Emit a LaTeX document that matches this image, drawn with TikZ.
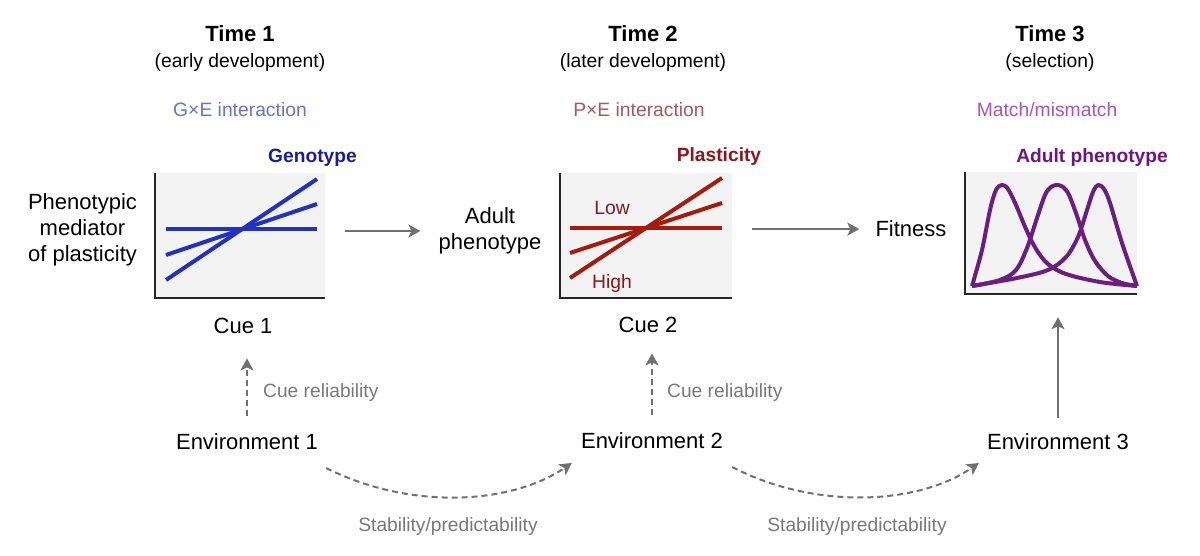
\documentclass[tikz,border=0pt]{standalone}
\usepackage{fontspec}
\setmainfont{Liberation Sans}
\usetikzlibrary{arrows.meta}
\definecolor{blueline}{RGB}{35,50,190}
\definecolor{bluetext}{RGB}{25,30,150}
\definecolor{gxe}{RGB}{105,115,200}
\definecolor{redline}{RGB}{165,28,12}
\definecolor{redtext}{RGB}{140,22,25}
\definecolor{pxe}{RGB}{170,85,100}
\definecolor{purpline}{RGB}{108,30,128}
\definecolor{purptext}{RGB}{108,20,130}
\definecolor{match}{RGB}{165,85,185}
\definecolor{arrgray}{RGB}{112,112,112}
\definecolor{txtgray}{RGB}{120,120,120}
\definecolor{plotbg}{RGB}{243,243,243}
\tikzset{
  big/.style={inner sep=0pt, font=\fontsize{22}{26}\selectfont, align=center},
  ttl/.style={inner sep=0pt, font=\fontsize{22}{26}\selectfont\bfseries, anchor=base},
  sub/.style={inner sep=0pt, font=\fontsize{19.3}{23}\selectfont, anchor=base},
  ptitle/.style={inner sep=0pt, font=\fontsize{19.2}{23}\selectfont\bfseries, anchor=base},
  graylbl/.style={inner sep=0pt, font=\fontsize{19.2}{23}\selectfont, text=txtgray},
  pbox/.style={inner sep=0pt, draw=none, fill=plotbg},
  axis/.style={draw=black!85, line width=1.5pt},
  bl/.style={draw=blueline, line width=4pt},
  rl/.style={draw=redline, line width=4pt},
  pl/.style={draw=purpline, line width=4pt, line join=round},
  arr/.style={draw=arrgray, line width=2pt, -{Stealth[length=12pt,width=13pt,inset=3pt]}},
  darr/.style={arr, dash pattern=on 6pt off 4pt},
}
\begin{document}
\begin{tikzpicture}[x=1pt,y=-1pt]
\useasboundingbox (0,0) rectangle (1200,556);
% headers
\node[ttl] (t1) at (240,42) {Time 1};
\node[sub] (s1) at (240,68) {(early development)};
\node[sub, text=gxe] (g1) at (240,117) {G×E interaction};
\node[ttl] (t2) at (643,42) {Time 2};
\node[sub] (s2) at (643,68) {(later development)};
\node[sub, text=pxe] (g2) at (639,117) {P×E interaction};
\node[ttl] (t3) at (1050,42) {Time 3};
\node[sub] (s3) at (1050,68) {(selection)};
\node[sub, text=match] (g3) at (1047,117) {Match/mismatch};
% plot titles
\node[ptitle, text=bluetext] (gen) at (312.5,162.5) {Genotype};
\node[ptitle, text=redtext] (plas) at (719,162) {Plasticity};
\node[ptitle, text=purptext] (adph) at (1092,163) {Adult phenotype};
% plot boxes
\node[pbox, minimum width=170pt, minimum height=125pt] (p1) at (240,235.5) {};
\node[pbox, minimum width=172pt, minimum height=125pt] (p2) at (646,235.5) {};
\node[pbox, minimum width=172pt, minimum height=122pt] (p3) at (1051,233) {};
\draw[axis] (p1.north west) -- (p1.south west) -- (p1.south east);
\draw[axis] (p2.north west) -- (p2.south west) -- (p2.south east);
\draw[axis] (p3.north west) -- (p3.south west) -- (p3.south east);
% plot 1
\draw[bl] (166,229) -- (317,229);
\draw[bl] (166,280) -- (317,179);
\draw[bl] (166,255) -- (317,204);
% plot 2
\draw[rl] (570,228) -- (722,228);
\draw[rl] (570,278) -- (722,178);
\draw[rl] (570,253) -- (722,203);
\node[sub, text=redtext] (low) at (612,215) {Low};
\node[sub, text=redtext] (high) at (612,288) {High};
% plot 3
\draw[pl] plot[smooth, tension=0.55] coordinates {(972,286) (982,250) (990,210) (996,190) (1002,185) (1008,189) (1016,205) (1026,229) (1036,249) (1048,264) (1066,274) (1100,282) (1137,286)};
\draw[pl] plot[smooth, tension=0.55] coordinates {(972,286) (1000,280) (1016,270) (1027,248) (1037,218) (1045,195) (1051,187) (1057,185) (1063,187) (1069,195) (1077,216) (1085,240) (1095,261) (1108,276) (1122,283) (1137,286)};
\draw[pl] plot[smooth, tension=0.55] coordinates {(972,286) (1017,278) (1048,270) (1066,257) (1078,237) (1087,210) (1093,192) (1098,185) (1104,189) (1110,203) (1122,243) (1137,286)};
% main labels
\node[big] (pm) at (82.5,230) {Phenotypic\\mediator\\of plasticity};
\node[big] (ap) at (490,231) {Adult\\phenotype};
\node[big, anchor=base] (fit) at (911,237) {Fitness};
\node[big, anchor=base] (cue1) at (243,334) {Cue 1};
\node[big, anchor=base] (cue2) at (648,332) {Cue 2};
\node[big, anchor=base] (env1) at (247,449) {Environment 1};
\node[big, anchor=base] (env2) at (652,448) {Environment 2};
\node[big, anchor=base] (env3) at (1058,449) {Environment 3};
% connectors
\draw[arr, shorten <=20pt, shorten >=18pt] (p1.east |- ap.west) -- (ap.west);
\draw[arr, shorten <=20pt, shorten >=16pt] (p2.east |- fit.west) -- (fit.west);
\draw[darr, shorten <=17pt, shorten >=24pt] (env1.north) -- (env1.north |- cue1.south);
\draw[darr, shorten <=17pt, shorten >=21pt] (env2.north) -- (env2.north |- cue2.south);
\draw[arr, shorten <=15pt, shorten >=23pt] (env3.north) -- (env3.north |- p3.south);
\draw[darr] ([shift={(8,19)}]env1.base east) .. controls (410,510) and (510,505) .. ([shift={(-9,15)}]env2.base west);
\draw[darr] ([shift={(9,19)}]env2.base east) .. controls (815,510) and (918,505) .. ([shift={(-8,14)}]env3.base west);
% gray labels
\node[graylbl, anchor=base west] (cr1) at (263,397) {Cue reliability};
\node[graylbl, anchor=base west] (cr2) at (667,397) {Cue reliability};
\node[graylbl, anchor=base] (sp1) at (448,531) {Stability/predictability};
\node[graylbl, anchor=base] (sp2) at (857,531) {Stability/predictability};
\end{tikzpicture}
\end{document}
